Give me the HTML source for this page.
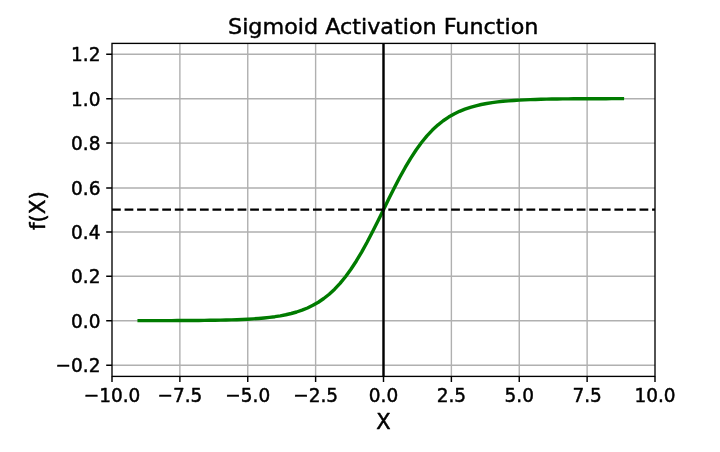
<!DOCTYPE html><html><head><meta charset="utf-8"><title>Sigmoid Activation Function</title>
<style>html,body{margin:0;padding:0;background:#fff;}body{width:720px;height:452px;overflow:hidden;}svg{display:block;}text{font-family:"DejaVu Sans","Liberation Sans",sans-serif;fill:#000;stroke:#000;stroke-width:0.45;stroke-linejoin:round;}</style></head><body>
<svg width="720" height="452" viewBox="0 0 720 452">
<rect width="720" height="452" fill="#fff"/>
<path d="M179.88 43.4 V376.4 M247.75 43.4 V376.4 M315.62 43.4 V376.4 M383.50 43.4 V376.4 M451.38 43.4 V376.4 M519.25 43.4 V376.4 M587.12 43.4 V376.4 M112.0 365.18 H655.0 M112.0 320.82 H655.0 M112.0 276.18 H655.0 M112.0 231.96 H655.0 M112.0 187.95 H655.0 M112.0 143.09 H655.0 M112.0 98.78 H655.0 M112.0 54.18 H655.0" stroke="#b0b0b0" stroke-width="1.4" fill="none"/>
<path d="M139.15 320.66 L144.58 320.65 L150.01 320.64 L155.44 320.64 L160.87 320.62 L166.30 320.61 L171.73 320.59 L177.16 320.57 L182.59 320.55 L188.02 320.52 L193.45 320.48 L198.88 320.44 L204.31 320.38 L209.74 320.32 L215.17 320.24 L220.60 320.14 L226.03 320.02 L231.46 319.87 L236.89 319.69 L242.32 319.47 L247.75 319.20 L253.18 318.87 L258.61 318.48 L264.04 317.99 L269.47 317.40 L274.90 316.69 L280.33 315.83 L285.76 314.78 L291.19 313.51 L296.62 311.99 L302.05 310.15 L307.48 307.96 L312.91 305.33 L318.34 302.22 L323.77 298.53 L329.20 294.21 L334.63 289.18 L340.06 283.38 L345.49 276.76 L350.92 269.28 L356.35 260.96 L361.78 251.84 L367.21 242.00 L372.64 231.57 L378.07 220.72 L383.50 209.65 L388.93 198.58 L394.36 187.73 L399.79 177.30 L405.22 167.46 L410.65 158.34 L416.08 150.02 L421.51 142.54 L426.94 135.92 L432.37 130.12 L437.80 125.09 L443.23 120.77 L448.66 117.08 L454.09 113.97 L459.52 111.34 L464.95 109.15 L470.38 107.31 L475.81 105.79 L481.24 104.52 L486.67 103.47 L492.10 102.61 L497.53 101.90 L502.96 101.31 L508.39 100.82 L513.82 100.43 L519.25 100.10 L524.68 99.83 L530.11 99.61 L535.54 99.43 L540.97 99.28 L546.40 99.16 L551.83 99.06 L557.26 98.98 L562.69 98.92 L568.12 98.86 L573.55 98.82 L578.98 98.78 L584.41 98.75 L589.84 98.73 L595.27 98.71 L600.70 98.69 L606.13 98.68 L611.56 98.66 L616.99 98.66 L622.42 98.65" stroke="#007b00" stroke-width="3.4" fill="none" stroke-linecap="square" stroke-linejoin="round"/>
<path d="M112.0 209.65 H655.0" stroke="#000" stroke-width="2.4" stroke-dasharray="8.77 3.79" fill="none"/>
<path d="M383.50 43.4 V376.4" stroke="#000" stroke-width="2.4" fill="none"/>
<path d="M112.00 376.4 v5.6 M179.88 376.4 v5.6 M247.75 376.4 v5.6 M315.62 376.4 v5.6 M383.50 376.4 v5.6 M451.38 376.4 v5.6 M519.25 376.4 v5.6 M587.12 376.4 v5.6 M655.00 376.4 v5.6 M112.0 365.18 h-5.8 M112.0 320.82 h-5.8 M112.0 276.18 h-5.8 M112.0 231.96 h-5.8 M112.0 187.95 h-5.8 M112.0 143.09 h-5.8 M112.0 98.78 h-5.8 M112.0 54.18 h-5.8" stroke="#000" stroke-width="1.45" fill="none"/>
<rect x="112.0" y="43.4" width="543.0" height="333.00" fill="none" stroke="#000" stroke-width="1.35"/>
<text transform="translate(112.00 401.75) scale(1 1.07)" font-size="18.5" text-anchor="middle">−10.0</text>
<text transform="translate(179.88 401.75) scale(1 1.07)" font-size="18.5" text-anchor="middle">−7.5</text>
<text transform="translate(247.75 401.75) scale(1 1.07)" font-size="18.5" text-anchor="middle">−5.0</text>
<text transform="translate(315.62 401.75) scale(1 1.07)" font-size="18.5" text-anchor="middle">−2.5</text>
<text transform="translate(383.50 401.75) scale(1 1.07)" font-size="18.5" text-anchor="middle">0.0</text>
<text transform="translate(451.38 401.75) scale(1 1.07)" font-size="18.5" text-anchor="middle">2.5</text>
<text transform="translate(519.25 401.75) scale(1 1.07)" font-size="18.5" text-anchor="middle">5.0</text>
<text transform="translate(587.12 401.75) scale(1 1.07)" font-size="18.5" text-anchor="middle">7.5</text>
<text transform="translate(655.00 401.75) scale(1 1.07)" font-size="18.5" text-anchor="middle">10.0</text>
<text transform="translate(100.5 372.03) scale(1 1.07)" font-size="18.5" text-anchor="end">−0.2</text>
<text transform="translate(100.5 327.67) scale(1 1.07)" font-size="18.5" text-anchor="end">0.0</text>
<text transform="translate(100.5 283.03) scale(1 1.07)" font-size="18.5" text-anchor="end">0.2</text>
<text transform="translate(100.5 238.81) scale(1 1.07)" font-size="18.5" text-anchor="end">0.4</text>
<text transform="translate(100.5 194.80) scale(1 1.07)" font-size="18.5" text-anchor="end">0.6</text>
<text transform="translate(100.5 149.94) scale(1 1.07)" font-size="18.5" text-anchor="end">0.8</text>
<text transform="translate(100.5 105.63) scale(1 1.07)" font-size="18.5" text-anchor="end">1.0</text>
<text transform="translate(100.5 61.03) scale(1 1.07)" font-size="18.5" text-anchor="end">1.2</text>
<text transform="translate(383.20 33.6) scale(1 0.955)" font-size="22.28" text-anchor="middle">Sigmoid Activation Function</text>
<text transform="translate(383.50 428.5) scale(1 1.025)" font-size="21.0" text-anchor="middle">X</text>
<text transform="translate(44.5 210.55) rotate(-90) scale(1 1.025)" font-size="21.5" text-anchor="middle">f(X)</text>
</svg></body></html>
